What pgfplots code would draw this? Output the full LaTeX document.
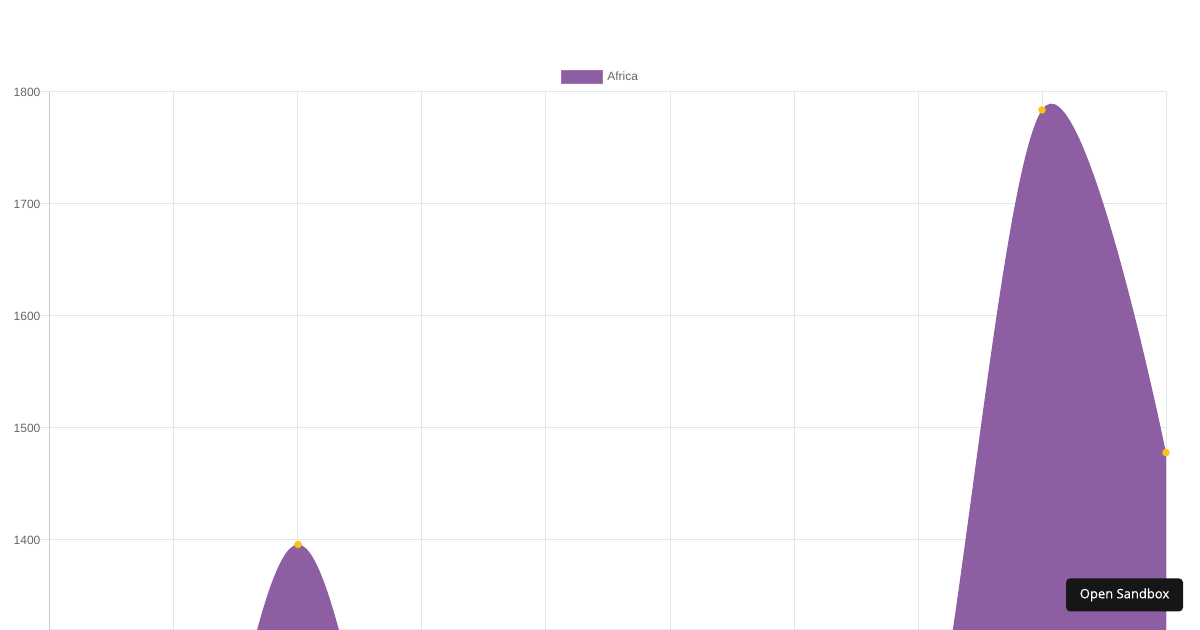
\documentclass[border=0pt]{standalone}
\usepackage{fontspec}
\setmainfont{Liberation Sans}
\newfontfamily\btnfont[FakeBold=0.5]{Open Sans}
\usepackage{pgfplots}
\pgfplotsset{compat=1.18}

\definecolor{africa}{HTML}{8E5EA2}
\definecolor{pointcol}{HTML}{FCC214}
\definecolor{gridgray}{HTML}{E5E5E5}
\definecolor{axisgray}{HTML}{C9C9C9}
\definecolor{labelgray}{HTML}{666666}

\begin{document}
\begin{tikzpicture}
% 1px = 0.75pt, page 1200x630 px
\useasboundingbox (-37.5pt,0pt) rectangle (862.5pt,472.5pt);
\begin{axis}[
  at={(0pt,0pt)}, anchor=south west,
  scale only axis,
  width=837pt, height=403.5pt,
  xmin=0, xmax=9,
  ymin=1319.64, ymax=1800,
  xtick={0,...,9}, xticklabels={},
  ytick={1400,1500,1600,1700,1800},
  axis lines*=left,
  axis line style={draw=axisgray, line width=0.75pt},
  x axis line style={draw=none},
  grid=major,
  grid style={draw=gridgray, line width=0.75pt},
  tick align=outside,
  major tick length=7.5pt,
  tick style={draw=gridgray, line width=0.75pt},
  yticklabel style={font=\fontsize{9}{10}\selectfont, text=labelgray, anchor=east, inner sep=0pt, xshift=0.5pt},
  /pgf/number format/assume math mode=true,
  /pgf/number format/1000 sep={},
  legend style={
    at={(rel axis cs:0.4579,1.0279)}, anchor=west,
    draw=none, fill=none, inner sep=0pt,
    font=\fontsize{9}{10}\selectfont, text=labelgray,
    nodes={inner sep=0pt}, column sep=3pt,
  },
  legend image code/.code={
    \draw[fill=africa, draw=africa!85!white, line width=0.75pt] (0pt,-4.9pt) rectangle (30.75pt,4.9pt);
  },
]
\addplot[draw=none, fill=africa, smooth, tension=0.6,
  mark=*, mark size=2.6pt,
  mark options={draw=pointcol, fill=pointcol}]
  coordinates {
    (0,1000)
    (1,1040)
    (2,1396)
    (3,1040)
    (4,1000)
    (5,950)
    (6,1000)
    (7,1150)
    (8,1784)
    (9,1478)
  } \closedcycle;
\addlegendentry{Africa}
\end{axis}
\node[fill={rgb,255:red,22;green,22;blue,22}, rounded corners=3pt, minimum width=87.75pt, minimum height=24.75pt, inner sep=0pt, text=white, font=\btnfont\fontsize{9.75}{11}\selectfont] at (805.9pt,26.3pt) {Open Sandbox};
\end{tikzpicture}
\end{document}
